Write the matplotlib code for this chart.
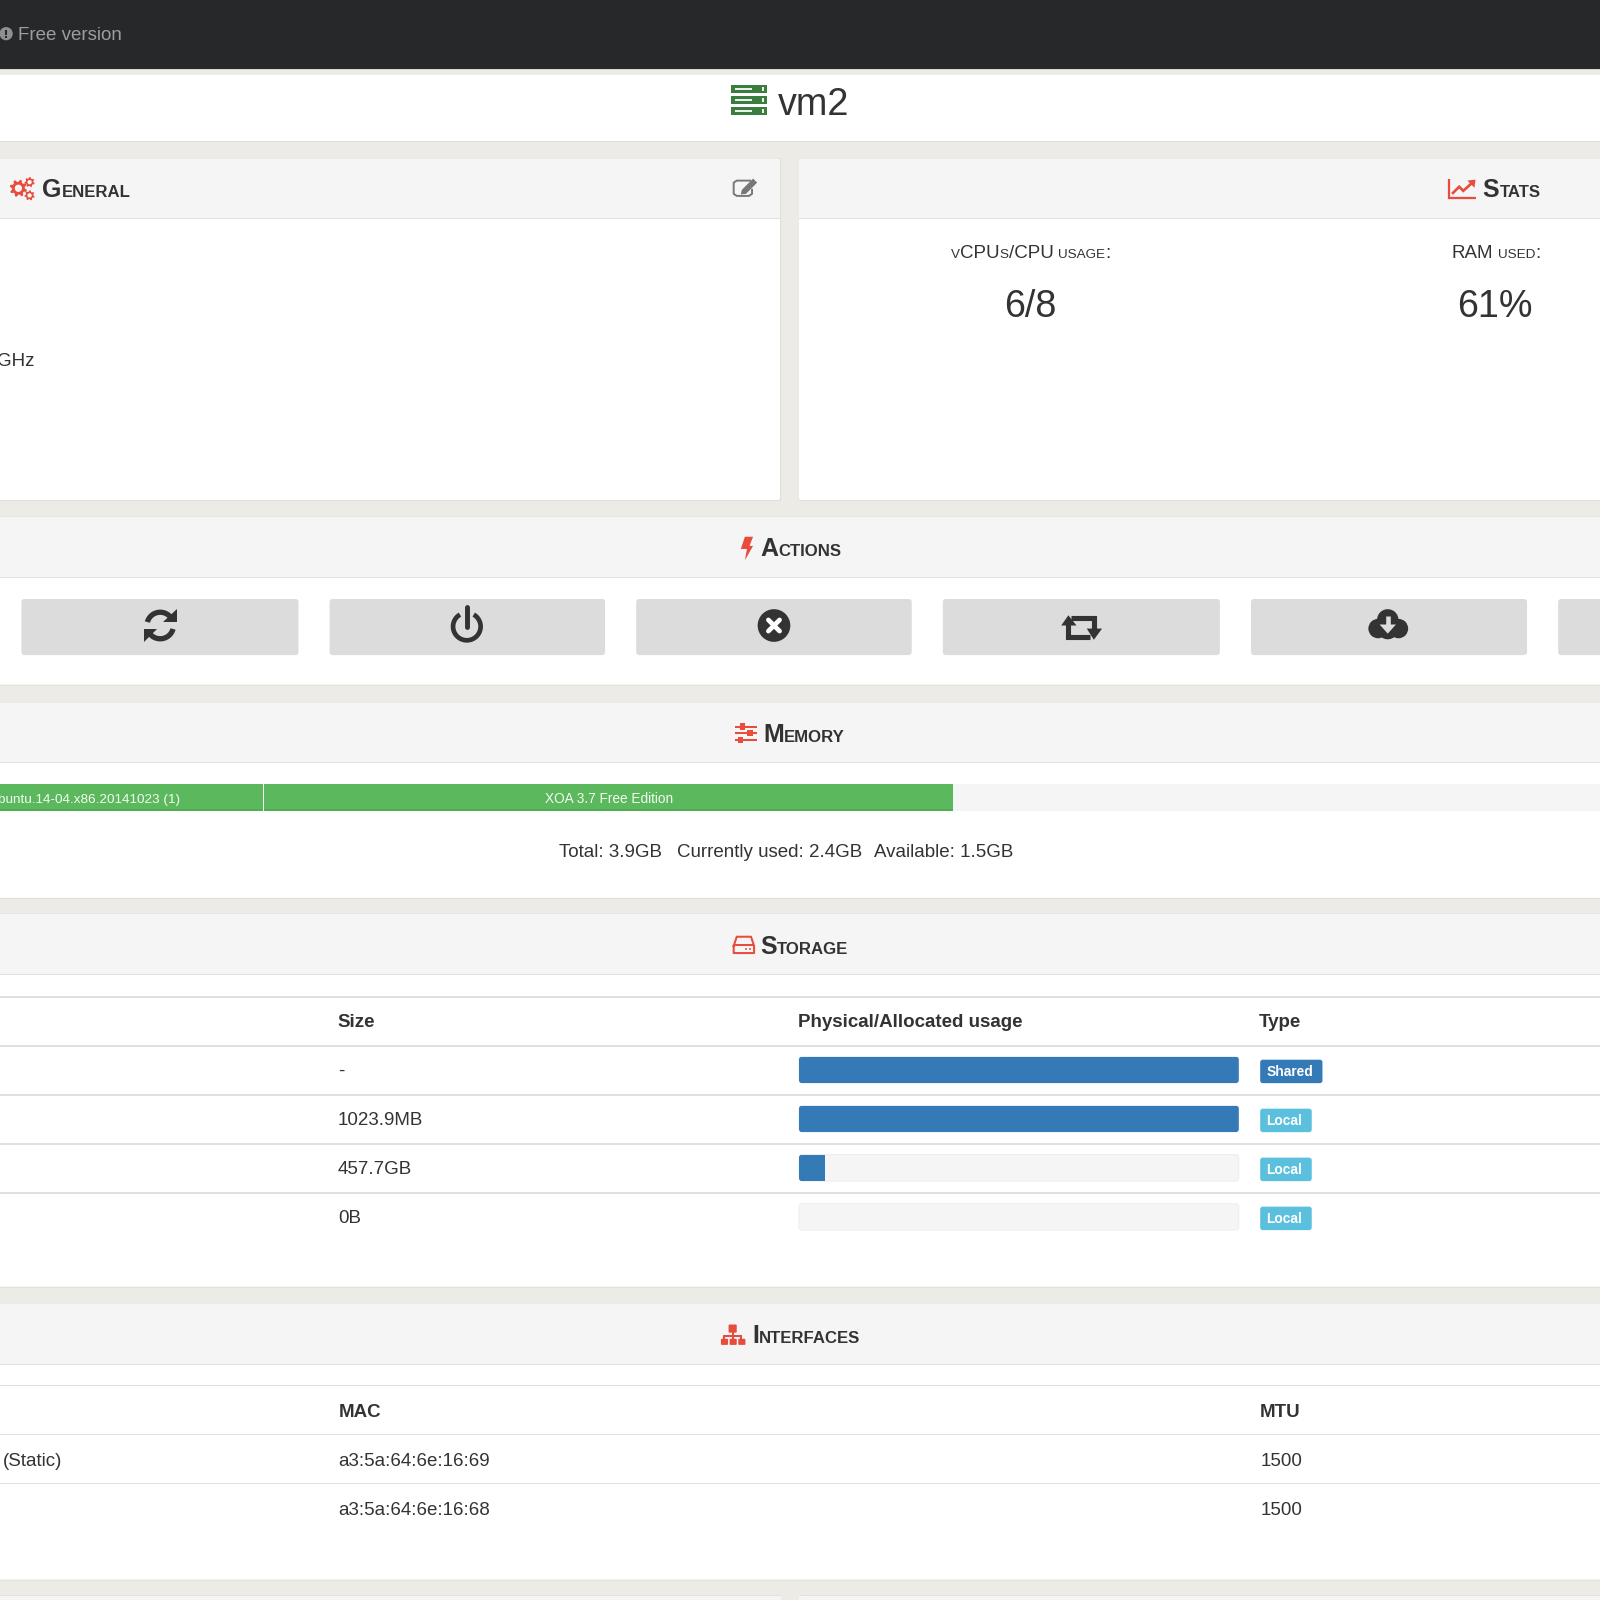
import numpy as np
import matplotlib
matplotlib.use("Agg")
import matplotlib.pyplot as plt
from matplotlib.patches import Rectangle, FancyBboxPatch, Circle, Polygon

# ---- content ----
memory_labels = ["buntu.14-04.x86.20141023 (1)", "XOA 3.7 Free Edition"]
memory_gb = [0.9, 1.5]
memory_free_gb = [1.5]
memory_summary = ["Total: 3.9GB", "Currently used: 2.4GB", "Available: 1.5GB"]
storage_sizes = ["-", "1023.9MB", "457.7GB", "0B"]
storage_usage_pct = [100, 100, 6, 0]
storage_types = ["Shared", "Local", "Local", "Local"]
storage_headers = ["Size", "Physical/Allocated usage", "Type"]
iface_headers = ["MAC", "MTU"]
iface_macs = ["a3:5a:64:6e:16:69", "a3:5a:64:6e:16:68"]
iface_mtus = ["1500", "1500"]

# ---- palette ----
DARK = "#272829"; PAGE = "#ecebe5"; HEAD = "#f5f5f5"; LINE = "#e0e0e0"
TXT = "#333333"; RED = "#e74c3c"; BLUE = "#337ab7"; CYAN = "#5bc0de"
GREEN = "#5cb85c"; BTN = "#dcdcdc"; FONT = "Liberation Sans"

W = 1568
fig = plt.figure(figsize=(16, 16), dpi=100, facecolor=PAGE)
ax = fig.add_axes([0, 0, 1, 1])
ax.set_xlim(0, W); ax.set_ylim(W, 0); ax.axis("off")
PT = 1.0204 * 0.72


def T(x, y, s, px=18.4, c=TXT, w="normal", ha="left", **kw):
    return ax.text(x, y, s, fontsize=px * PT, color=c, fontweight=w, ha=ha,
                   va="baseline", family=FONT, **kw)


def box(x0, y0, x1, y1, fc, ec="none", lw=0, r=0, z=1):
    if r:
        p = FancyBboxPatch((x0 + r, y0 + r), x1 - x0 - 2 * r, y1 - y0 - 2 * r,
                           boxstyle=f"round,pad={r},rounding_size={r}",
                           fc=fc, ec=ec, lw=lw, zorder=z)
    else:
        p = Rectangle((x0, y0), x1 - x0, y1 - y0, fc=fc, ec=ec, lw=lw, zorder=z)
    ax.add_patch(p)
    return p


def panel(x0, y0, x1, y1, hb=None):
    box(x0, y0 - .6, x1, y1 + .9, "#deded9", r=2, z=1)
    box(x0, y0, x1 - 1, y1, "white", r=2, z=1.1)
    if hb:
        box(x0, y0, x1 - 1, hb, HEAD, z=1.2)
        box(x0, hb - .6, x1 - 1, hb + .6, LINE, z=1.3)


def smallcaps(x, base, word, big=24.5, small=16.4, w="bold", c=TXT, gap=0.2):
    """word: list of (text, is_big)."""
    r = fig.canvas.get_renderer()
    cur = x
    for s, b in word:
        t = T(cur, base, s, big if b else small, c, w, zorder=5)
        cur += t.get_window_extent(r).width / 1.0204 + gap
    return cur


def stroke(xs, ys, lw, c=TXT, cap="butt", z=6):
    ax.plot(xs, ys, color=c, lw=lw * PT, solid_capstyle=cap, zorder=z, solid_joinstyle="miter")


def poly(pts, c=TXT, z=6):
    ax.add_patch(Polygon(pts, closed=True, fc=c, ec="none", zorder=z))


def arc(cx, cy, r, a0, a1, lw, c=TXT):
    t = np.radians(np.linspace(a0, a1, 60))
    stroke(cx + r * np.cos(t), cy + r * np.sin(t), lw, c)


def gear(cx, cy, r, n, bg=HEAD):
    a = np.linspace(0, 2 * np.pi, n * 4, endpoint=False)
    rad = np.where(np.arange(n * 4) % 4 < 2, r, r * 0.74)
    poly(np.c_[cx + rad * np.cos(a + .2), cy + rad * np.sin(a + .2)], RED)
    ax.add_patch(Circle((cx, cy), r * .42, fc=bg, ec="none", zorder=7))


# ---- top bar and title ----
box(0, 0, W, 67.3, DARK, z=2)
box(0, 67.3, W, 68.5, "#d8d8d2", z=2)
ax.add_patch(Circle((6, 33), 6.5, fc="#8f8f8f", ec="none", zorder=3))
stroke([6, 6], [29, 34], 2, DARK)
stroke([6, 6], [35.5, 37.5], 2, DARK)
T(18, 39.5, "Free version", 18.4, "#9d9d9d", zorder=3)

box(0, 73.5, W, 139, "#dcdcd8", z=1)
box(0, 73.5, W, 138, "white", z=1.1)
for yy in (83.5, 94.5, 105):
    box(716, yy, 752, yy + 7.5, "#3b7d3e", z=4)
    box(720, yy + 2.8, 737, yy + 4.6, "#e8efe8", z=5)
    box(746.5, yy + 2, 748.5, yy + 5.5, "#e8efe8", z=5)
T(762, 113, "vm2", 37, zorder=4)

# ---- general / stats ----
panel(-5, 155.5, 765.5, 490, 214.5)
panel(783, 155.5, W + 5, 490, 214.5)
gear(18, 184.5, 8.5, 8); gear(29, 178.5, 5, 7); gear(29, 191.5, 5, 7)
smallcaps(41, 193.5, [("G", True), ("ENERAL", False)])
# edit icon
ax.plot([735, 722, 719, 719, 722, 734, 737, 737], [177, 177, 179, 190, 192, 192, 190, 186],
        color="#777777", lw=1.9 * PT, zorder=6)
poly([(738, 175), (742, 179), (731, 190), (726, 190.5), (727, 186)], "#777777")
T(-2.5, 359, "GHz")

stroke([1420, 1420, 1446], [175, 194, 194], 2.2, RED)
stroke([1423, 1430, 1434, 1444], [190, 183, 187, 178], 2.6, RED)
poly([(1438, 177), (1446, 176), (1445, 184)], RED)
smallcaps(1453, 193.5, [("S", True), ("TATS", False)])

smallcaps(932, 253, [("V", False), ("CPU", True), ("S", False), ("/CPU", True)],
          big=18.4, small=13.2, w="normal", gap=0)
smallcaps(1037, 253, [("USAGE", False), (":", True)], big=18.4, small=13.2, w="normal", gap=0)
smallcaps(1422, 253, [("RAM", True)], big=18.4, w="normal", gap=0)
smallcaps(1468, 253, [("USED", False), (":", True)], big=18.4, small=13.2, w="normal", gap=0)
T(1010, 311, "6/8", 37, ha="center", zorder=4)
T(1465, 311, "61%", 37, ha="center", zorder=4)

# ---- actions ----
panel(-5, 506.5, W + 5, 671, 566)
poly([(730, 526), (738, 526), (734.5, 535), (738, 535), (730, 549), (732, 538), (726, 538)], RED)
smallcaps(745, 545, [("A", True), ("CTIONS", False)])
for x0, x1 in [(21, 292.5), (323, 593), (623.5, 893.5), (924, 1195.5), (1226, 1496.5), (1527, 1575)]:
    box(x0, 587, x1, 642, BTN, r=3, z=2)
# refresh
arc(157, 613, 13, 195, 330, 5.2); arc(157, 613, 13, 15, 150, 5.2)
poly([(173, 597), (173, 610), (160, 610)]); poly([(141, 629), (141, 616), (154, 616)])
# power
arc(457.5, 614, 13.5, -60, 240, 4.6); stroke([457.5, 457.5], [595, 614], 4.8, cap="round")
# close
ax.add_patch(Circle((758.5, 613), 16, fc=TXT, ec="none", zorder=5))
stroke([753, 764], [607.5, 618.5], 4.6, "white", "round", 7)
stroke([764, 753], [607.5, 618.5], 4.6, "white", "round", 7)
# retweet
poly([(1040, 613), (1047, 603), (1055, 613)]); poly([(1065, 616), (1080, 616), (1072, 627)])
stroke([1047, 1047, 1068], [610, 624, 624], 5)
stroke([1050, 1072, 1072], [605.5, 605.5, 619], 5)
# cloud
for cx, cy, rr in [(1350.5, 616, 9.5), (1360, 607.5, 10.5), (1370.5, 616, 9.5), (1360, 616, 10.5)]:
    ax.add_patch(Circle((cx, cy), rr, fc=TXT, ec="none", zorder=5))
stroke([1360, 1360], [604, 615], 4.5, BTN, z=7)
poly([(1352, 612), (1368, 612), (1360, 621)], BTN, 7)

# ---- memory ----
panel(-5, 688.5, W + 5, 880, 747.5)
for yy, xm in [(712, 728), (718.5, 735), (725, 726)]:
    stroke([720, 742], [yy, yy], 2, RED)
    box(xm - 2.5, yy - 3, xm + 2.5, yy + 3, RED, z=7)
smallcaps(748, 727, [("M", True), ("EMORY", False)])

GB = 450.0
left = 258.5 - memory_gb[0] * GB
ax.barh(781.5, W + 10 - left, left=left, height=26, color=HEAD, zorder=2)
cur = left
for i, v in enumerate(memory_gb):
    ax.barh(781.5, v * GB - 1.2 * (i == 0), left=cur, height=26, color=GREEN, zorder=3)
    box(cur, 793, cur + v * GB - 1.2 * (i == 0), 794.5, "#4cae4c", z=3.1)
    cur += v * GB
T(176.5, 787, memory_labels[0], 13.2, "#f3fbf3", ha="right", zorder=4)
T(597, 787, memory_labels[1], 13.4, "#f3fbf3", ha="center", zorder=4)
for x, s in zip([548, 663.5, 857], memory_summary):
    T(x, 839.5, s, zorder=4)

# ---- storage ----
panel(-5, 895.5, W + 5, 1261, 955)
ax.plot([719, 722, 736, 739, 739, 719, 719], [927, 918, 918, 927, 934, 934, 927], color=RED, lw=2 * PT, zorder=6)
stroke([719, 739], [926, 926], 2, RED)
stroke([730, 732], [930, 930], 1.5, RED); stroke([734, 736], [930, 930], 1.5, RED)
smallcaps(745, 935, [("S", True), ("TORAGE", False)])
for yy in (977, 1025, 1073, 1121, 1169):
    box(0, yy - .7, W, yy + .7, LINE, z=2)
for x, s in zip([331, 782, 1234], storage_headers):
    T(x, 1006.5, s, w="bold", zorder=4)
BX0, BX1 = 783, 1214
for i, (size, pct, typ) in enumerate(zip(storage_sizes, storage_usage_pct, storage_types)):
    y = 1048.5 + 48 * i
    T(331, y + 6, size, zorder=4)
    bg = box(BX0, y - 13, BX1, y + 13, HEAD, ec="#ececec", lw=.6, r=3, z=2)
    bars = ax.barh(y, (BX1 - BX0) * pct / 100, left=BX0, height=26, color=BLUE, zorder=3)
    for b in bars:
        b.set_clip_path(bg)
    xr = 1296 if typ == "Shared" else 1285.5
    box(1235, y - 10, xr, y + 13, BLUE if typ == "Shared" else CYAN, r=2.5, z=3)
    T(1241, y + 6, typ, 13.5, "white", "bold", zorder=4)

# ---- interfaces ----
panel(-5, 1277.5, W + 5, 1548, 1337)
box(714, 1298, 722, 1306, RED, r=1, z=6)
stroke([710, 710, 726, 726], [1313, 1309, 1309, 1313], 2, RED)
stroke([718, 718], [1305, 1313], 2, RED)
for cx in (706.5, 715, 723.5):
    box(cx, 1312, cx + 7, 1318, RED, r=1, z=6)
smallcaps(737, 1316.5, [("I", True), ("NTERFACES", False)])
for yy in (1358, 1406, 1454):
    box(0, yy - .7, W, yy + .7, LINE, z=2)
for x, s in zip([332, 1235], iface_headers):
    T(x, 1388.5, s, w="bold", zorder=4)
T(3, 1436.5, "(Static)", zorder=4)
for i, (m, mtu) in enumerate(zip(iface_macs, iface_mtus)):
    T(331.5, 1436.5 + 48 * i, m, zorder=4)
    T(1235, 1436.5 + 48 * i, mtu, zorder=4)

# ---- next row (cropped) ----
panel(-5, 1564, 765.5, 1600, None)
panel(783, 1564, W + 5, 1600, None)
box(-5, 1564, 765, 1600, HEAD, z=1.2)
box(783, 1564, W + 5, 1600, HEAD, z=1.2)

fig.savefig("out.png", dpi=100, facecolor=PAGE)
